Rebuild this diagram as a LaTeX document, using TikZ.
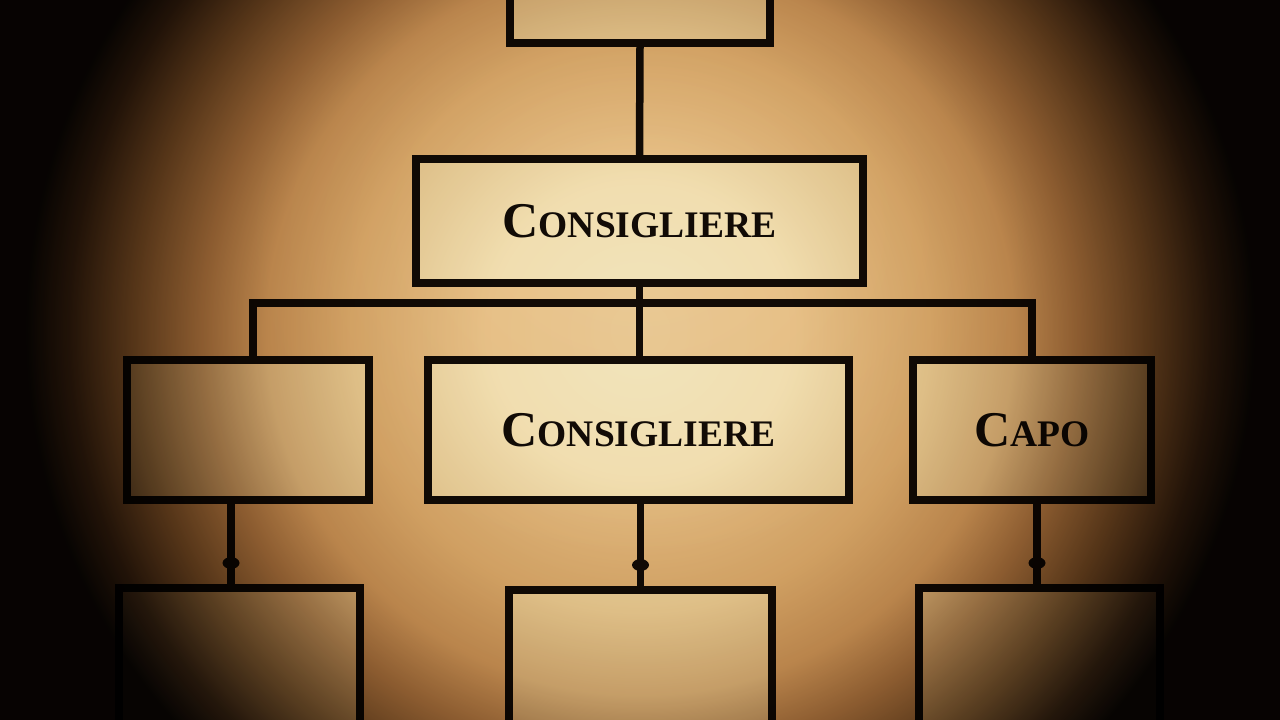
\documentclass[tikz,border=0pt]{standalone}
\usepackage{fontspec}
\newfontfamily\lblfont{Liberation Serif}
\usetikzlibrary{shapes.geometric}
\definecolor{wall}{HTML}{E2C08A}
\definecolor{wallhi}{HTML}{EBCC98}
\definecolor{cream}{HTML}{F1E5BD}
\definecolor{ink}{HTML}{120C07}
\definecolor{ma}{rgb}{1,1,1}
\definecolor{mb}{rgb}{1,0.97,0.93}
\definecolor{mc}{rgb}{0.92,0.83,0.71}
\definecolor{md}{rgb}{0.82,0.69,0.55}
\definecolor{me}{rgb}{0.62,0.48,0.35}
\definecolor{mf}{rgb}{0.38,0.28,0.18}
\definecolor{mg}{rgb}{0.15,0.10,0.06}
\definecolor{mh}{rgb}{0.03,0.02,0.015}
\pgfdeclareradialshading{vigmul}{\pgfpointorigin}{color(0bp)=(ma); color(3.1bp)=(mb); color(5.9bp)=(mc); color(7.6bp)=(md); color(8.9bp)=(me); color(10.3bp)=(mf); color(11.6bp)=(mg); color(12.5bp)=(mh); color(50bp)=(mh)}
\newcommand{\capsl}[2]{{\fontsize{50}{50}\selectfont #1}{\fontsize{37.5}{37.5}\selectfont #2}}
\begin{document}
\begin{tikzpicture}[x=1pt,y=-1pt,
  box/.style={draw=ink, line width=7.5pt, fill=cream, inner sep=0pt, line join=miter},
  wire/.style={draw=ink, line width=7.5pt, line join=miter},
  knob/.style={ellipse, fill=ink, minimum width=17pt, minimum height=12pt, inner sep=0pt},
  lbl/.style={font=\lblfont\bfseries, text=ink}]
\useasboundingbox (0,0) rectangle (1280,720);
\clip (0,0) rectangle (1280,720);
\fill[wall] (0,0) rectangle (1280,720);
\shade[inner color=wallhi, outer color=wall] (240,-100) rectangle (1040,560);
% boxes
\node[box, minimum width=260pt, minimum height=123pt] (top) at (640,-18.5) {};
\node[box, lbl, minimum width=447pt, minimum height=124pt] (cons) at (639.5,221) {\capsl{C}{ONSIGLIERE}};
\node[box, minimum width=242pt, minimum height=140pt] (left) at (248,430) {};
\node[box, lbl, minimum width=421pt, minimum height=140pt] (mid) at (638.5,430) {\capsl{C}{ONSIGLIERE}};
\node[box, lbl, minimum width=238pt, minimum height=140pt] (capo) at (1032,430) {\capsl{C}{APO}};
\node[box, minimum width=241pt, minimum height=220pt] (bl) at (239.5,698) {};
\node[box, minimum width=263pt, minimum height=220pt] (bm) at (640.5,700) {};
\node[box, minimum width=241pt, minimum height=220pt] (br) at (1039.5,698) {};
% connectors
\coordinate (bus) at (640,303);
\draw[wire] (top.south) -- (cons.north);
\draw[wire] (cons.south) -- (cons.south |- mid.north);
\draw[wire] ([xshift=5pt]left.north) |- (bus) -| (capo.north);
\draw[wire] ([xshift=-17pt]left.south) -- ([xshift=-17pt]left.south |- bl.north);
\draw[wire] (mid.south -| bm.north) -- (bm.north);
\draw[wire] ([xshift=5pt]capo.south) -- ([xshift=5pt]capo.south |- br.north);
\node[knob] (k1) at (231,563) {};
\node[knob] (k2) at (640.5,565) {};
\node[knob] (k3) at (1037,563) {};
% lighting (multiply)
\shade[shading=vigmul, blend mode=multiply] (-590,-870) rectangle (1870,1530);
\end{tikzpicture}
\end{document}
